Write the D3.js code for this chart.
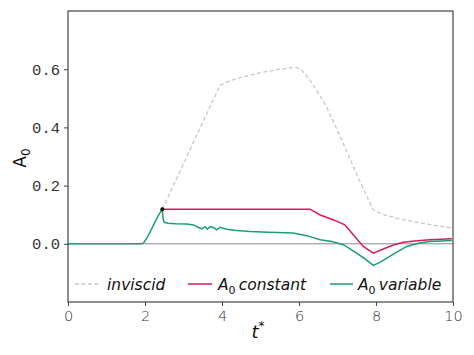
<!DOCTYPE html>
<html><head><meta charset="utf-8">
<script src="https://cdn.jsdelivr.net/npm/d3@7/dist/d3.min.js"></script>
<style>body{margin:0;background:#fff}svg{display:block}</style>
</head><body>
<svg id="c" width="474" height="355"></svg>
<script>
const xTicks = [0, 2, 4, 6, 8, 10];
const yTicks = [0.0, 0.2, 0.4, 0.6];
const seriesNames = ["inviscid", "A0 constant", "A0 variable"];

const invT = [2.45, 3.0, 3.5, 3.95, 4.2, 4.47, 5.0, 5.5, 5.9, 6.05, 6.3, 6.7, 7.1, 7.45, 7.7, 7.93, 8.2, 8.54, 9.0, 9.5, 9.97];
const invV = [0.119, 0.275, 0.418, 0.545, 0.560, 0.571, 0.588, 0.600, 0.607, 0.600, 0.560, 0.475, 0.360, 0.253, 0.180, 0.116, 0.100, 0.088, 0.075, 0.064, 0.054];

const conT = [2.45, 3.0, 4.0, 5.0, 6.0, 6.29, 6.55, 6.9, 7.19, 7.41, 7.67, 7.93, 8.19, 8.45, 8.71, 9.0, 9.4, 9.97];
const conV = [0.119, 0.119, 0.119, 0.119, 0.119, 0.119, 0.099, 0.082, 0.065, 0.031, -0.009, -0.032, -0.018, -0.004, 0.005, 0.010, 0.014, 0.017];

const varT = [0, 1.0, 1.9, 1.96, 2.05, 2.15, 2.25, 2.35, 2.45, 2.47, 2.5, 2.6, 2.8, 3.08, 3.26, 3.38, 3.47, 3.56, 3.62, 3.69, 3.78, 3.86, 3.95, 4.12, 4.38, 4.73, 5.2, 5.85, 6.2, 6.55, 6.85, 7.15, 7.5, 7.75, 7.93, 8.1, 8.28, 8.55, 8.8, 9.1, 9.4, 9.97];
const varV = [0, 0, 0, 0.002, 0.02, 0.045, 0.072, 0.098, 0.119, 0.085, 0.074, 0.071, 0.069, 0.068, 0.065, 0.057, 0.051, 0.059, 0.050, 0.059, 0.056, 0.048, 0.057, 0.050, 0.046, 0.042, 0.040, 0.037, 0.028, 0.014, 0.008, -0.003, -0.032, -0.055, -0.074, -0.064, -0.049, -0.028, -0.009, 0.002, 0.008, 0.011];

const svg = d3.select("#c");
const L = 68, R = 453, T = 11, B = 302;
const x = d3.scaleLinear().domain([0, 10]).range([L, R]);
const y = d3.scaleLinear().domain([-0.2, 0.8]).range([B, T]);

// zero line
svg.append("line").attr("x1", L).attr("x2", R).attr("y1", y(0)).attr("y2", y(0))
  .attr("stroke", "#8a8a8a").attr("stroke-width", 1);

const line = d3.line().x(d => x(d[0])).y(d => y(d[1]));
const zip = (a, b) => a.map((v, i) => [v, b[i]]);

svg.append("path").attr("d", line(zip(invT, invV))).attr("fill", "none")
  .attr("stroke", "#c8c8c8").attr("stroke-width", 1.3).attr("stroke-dasharray", "4,2.5");
svg.append("path").attr("d", line(zip(conT, conV))).attr("fill", "none")
  .attr("stroke", "#d81b60").attr("stroke-width", 1.5);
svg.append("path").attr("d", line(zip(varT, varV))).attr("fill", "none")
  .attr("stroke", "#1b9e77").attr("stroke-width", 1.5);

svg.append("circle").attr("cx", x(invT[0])).attr("cy", y(invV[0])).attr("r", 2).attr("fill", "#000");

// frame
svg.append("rect").attr("x", L).attr("y", T).attr("width", R - L).attr("height", B - T)
  .attr("fill", "none").attr("stroke", "#444").attr("stroke-width", 1.2);

// x axis
const xa = svg.append("g").attr("transform", `translate(0,${B})`)
  .call(d3.axisBottom(x).tickValues(xTicks).tickSize(4).tickFormat(d3.format("d")));
xa.select(".domain").remove();
xa.selectAll("line").attr("stroke", "#444");
xa.selectAll("text").attr("font-family", "DejaVu Sans").attr("font-size", 14.5).attr("font-weight", 300)
  .attr("fill", "#333").attr("dy", "0.85em");

// y axis
const ya = svg.append("g").attr("transform", `translate(${L},0)`)
  .call(d3.axisLeft(y).tickValues(yTicks).tickSize(4).tickFormat(d3.format(".1f")));
ya.select(".domain").remove();
ya.selectAll("line").attr("stroke", "#444");
ya.selectAll("text").attr("font-family", "Liberation Mono").attr("font-size", 15.5)
  .attr("fill", "#333").attr("x", -8);

// axis labels
svg.append("text").attr("x", 258).attr("y", 338).attr("text-anchor", "middle")
  .attr("font-family", "DejaVu Sans").attr("font-size", 18).attr("font-style", "italic").attr("fill", "#111")
  .html('t<tspan dy="-8" font-size="12">*</tspan>');
svg.append("text").attr("transform", "translate(26,158) rotate(-90)").attr("text-anchor", "middle")
  .attr("font-family", "DejaVu Sans").attr("font-size", 17).attr("fill", "#111")
  .html('A<tspan dy="4" font-size="12">0</tspan>');

// legend
const ly = 284;
const leg = [
  {x0: 75, x1: 100, tx: 107, color: "#c8c8c8", dash: "4,2.5", sub: false, label: "inviscid"},
  {x0: 188, x1: 212, tx: 218, color: "#d81b60", dash: null, sub: true, label: "constant"},
  {x0: 330, x1: 353, tx: 358, color: "#1b9e77", dash: null, sub: true, label: "variable"}
];
leg.forEach(d => {
  svg.append("line").attr("x1", d.x0).attr("x2", d.x1).attr("y1", ly).attr("y2", ly)
    .attr("stroke", d.color).attr("stroke-width", 1.5).attr("stroke-dasharray", d.dash);
  const t = svg.append("text").attr("x", d.tx).attr("y", ly + 6)
    .attr("font-family", "DejaVu Sans").attr("font-size", 15.5).attr("font-style", "italic").attr("fill", "#111");
  if (d.sub) {
    t.html(`A<tspan dy="4" font-size="11" font-style="normal">0</tspan><tspan dy="-4">${"\u2009"}${d.label}</tspan>`);
  } else t.text(d.label);
});
</script>
</body></html>
